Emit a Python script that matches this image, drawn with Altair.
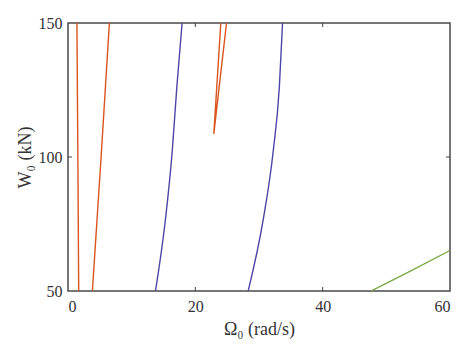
import altair as alt
import pandas as pd

# curve data (Omega0 in rad/s, W0 in kN)
red1_omega = [1.68, 1.55, 1.40]
red1_w = [50, 100, 150]
red2_omega = [3.83, 5.2, 6.5]
red2_w = [50, 100, 150]
red3_omega = [24.0, 22.9, 24.9]
red3_w = [150, 108.6, 150]
blue1_omega = [13.74, 15.3, 16.35, 17.1, 17.92]
blue1_w = [50, 76.6, 101.5, 126.3, 150]
blue2_omega = [28.3, 30.66, 32.2, 33.2, 33.7]
blue2_w = [50, 76.6, 101.5, 126.3, 150]
green_omega = [47.6, 53.7, 59.9]
green_w = [50, 57.3, 65.0]

x_ticks = [20, 40]
y_ticks = [100]


def build(series):
    rows = []
    for sid, col, xs, ys in series:
        for i, (x, y) in enumerate(zip(xs, ys)):
            rows.append({"sid": sid, "col": col, "omega": x, "w": y, "ord": i})
    return pd.DataFrame(rows)


df_straight = build([
    ("r1", "red", red1_omega, red1_w),
    ("r2", "red", red2_omega, red2_w),
    ("r3", "red", red3_omega, red3_w),
])
df_curved = build([
    ("b1", "blue", blue1_omega, blue1_w),
    ("b2", "blue", blue2_omega, blue2_w),
    ("g1", "green", green_omega, green_w),
])

W, H = 382, 268
FONT = "Liberation Serif"

xscale = alt.Scale(domain=[0, 60], nice=False, zero=False)
yscale = alt.Scale(domain=[50, 150], nice=False, zero=False)
cscale = alt.Scale(domain=["red", "blue", "green"],
                   range=["#d9541e", "#4b45a8", "#77ab43"])

x_enc = alt.X("omega:Q", scale=xscale,
              axis=alt.Axis(title="Ω₀ (rad/s)", values=[0, 20, 40, 60], domain=False,
                            ticks=False, grid=False, labelPadding=7, titlePadding=6,
                            labelFontSize=16, titleFontSize=18, labelFont=FONT,
                            titleFont=FONT, labelColor="#333", titleColor="#333",
                            titleFontWeight="normal"))
y_enc = alt.Y("w:Q", scale=yscale,
              axis=alt.Axis(title="W₀ (kN)", values=[50, 100, 150], domain=False,
                            ticks=False, grid=False, labelPadding=6, titlePadding=4,
                            labelFontSize=16, titleFontSize=18, labelFont=FONT,
                            titleFont=FONT, labelColor="#333", titleColor="#333",
                            titleFontWeight="normal"))

straight = alt.Chart(df_straight).mark_line(strokeWidth=1.4, clip=True).encode(
    x=x_enc, y=y_enc, detail="sid:N", order="ord:Q",
    color=alt.Color("col:N", legend=None, scale=cscale),
)
curved = alt.Chart(df_curved).mark_line(strokeWidth=1.4, clip=True,
                                        interpolate="monotone").encode(
    x=alt.X("omega:Q", scale=xscale), y=alt.Y("w:Q", scale=yscale),
    detail="sid:N", order="ord:Q",
    color=alt.Color("col:N", legend=None, scale=cscale),
)

xt = pd.DataFrame({"t": x_ticks})
yt = pd.DataFrame({"t": y_ticks})
tick_style = dict(color="#444", strokeWidth=1)
xb = alt.Chart(xt).mark_rule(**tick_style).encode(
    x=alt.X("t:Q", scale=xscale), y=alt.value(H), y2=alt.value(H - 4))
xtop = alt.Chart(xt).mark_rule(**tick_style).encode(
    x=alt.X("t:Q", scale=xscale), y=alt.value(0), y2=alt.value(4))
yl = alt.Chart(yt).mark_rule(**tick_style).encode(
    y=alt.Y("t:Q", scale=yscale), x=alt.value(0), x2=alt.value(4))
yr = alt.Chart(yt).mark_rule(**tick_style).encode(
    y=alt.Y("t:Q", scale=yscale), x=alt.value(W), x2=alt.value(W - 4))

chart = alt.layer(straight, curved, xb, xtop, yl, yr).properties(
    width=W, height=H,
    autosize=alt.AutoSizeParams(type="none"),
    padding={"left": 68, "top": 23, "right": 24, "bottom": 62},
    background="white",
).configure_view(stroke="#4a4a4a", strokeWidth=1.5)

chart.save("out.html", embed_options={"renderer": "svg", "actions": False})
